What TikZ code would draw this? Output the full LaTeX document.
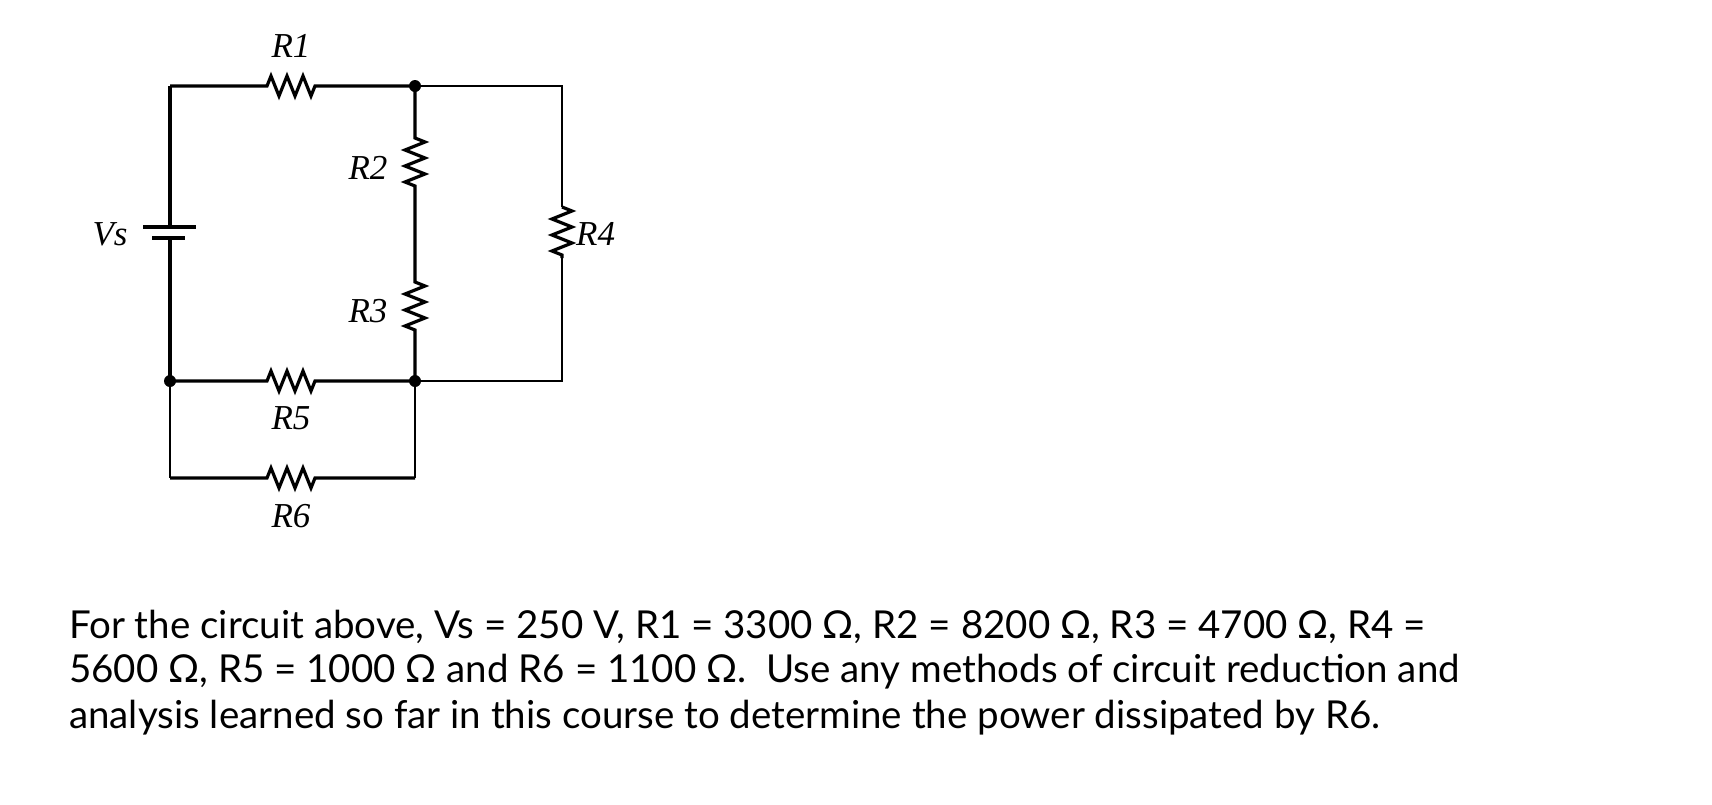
\documentclass[tikz,border=0pt]{standalone}
\usepackage{fontspec}
\setmainfont{Lato}
\newfontfamily\lbl{Liberation Serif}
\usetikzlibrary{calc}
\begin{document}
\begin{tikzpicture}[x=1pt,y=-1pt,
  wire/.style={line width=3.2pt},
  thin/.style={line width=1.8pt},
  lab/.style={font=\lbl\itshape\fontsize{35}{35}\selectfont,inner sep=0pt},
  txt/.style={font=\fontsize{38.5}{38.5}\selectfont,anchor=base west,inner sep=0pt},
  dot/.style={circle,fill,inner sep=0pt,minimum size=12pt}]
\useasboundingbox (0,0) rectangle (1712,804);
% key points
\coordinate (TL) at (170,86); \coordinate (TM) at (415,86); \coordinate (TR) at (562,86);
\coordinate (ML) at (170,381); \coordinate (MM) at (415,381); \coordinate (MR) at (562,381);
\coordinate (BL) at (170,478); \coordinate (BM) at (415,478);
% R1
\draw[wire] (TL) -- (267,86) -- ++(4,-10) -- ++(8,20) -- ++(8,-20) -- ++(8,20) -- ++(8,-20) -- ++(8,20) -- ++(4,-10) -- (TM);
% R5
\draw[wire] (ML) -- (267,381) -- ++(4,-10) -- ++(8,20) -- ++(8,-20) -- ++(8,20) -- ++(8,-20) -- ++(8,20) -- ++(4,-10) -- (MM);
% R6
\draw[wire] (BL) -- (267,478) -- ++(4,-10) -- ++(8,20) -- ++(8,-20) -- ++(8,20) -- ++(8,-20) -- ++(8,20) -- ++(4,-10) -- (BM);
% R2 and R3 branch
\draw[wire] (TM) -- (415,138) -- ++(10,4) -- ++(-20,8) -- ++(20,8) -- ++(-20,8) -- ++(20,8) -- ++(-20,8) -- ++(10,4)
  -- (415,282) -- ++(10,4) -- ++(-20,8) -- ++(20,8) -- ++(-20,8) -- ++(20,8) -- ++(-20,8) -- ++(10,4) -- (MM);
% R4 branch
\draw[thin] (TM) -- (TR) -- (562,207);
\draw[wire] (562,207) -- ++(10,4) -- ++(-20,8) -- ++(20,8) -- ++(-20,8) -- ++(20,8) -- ++(-20,8) -- ++(10,4) -- (562,258);
\draw[thin] (562,258) -- (MR) -- (MM);
% R6 loop verticals
\draw[thin] (ML) -- (BL);
\draw[thin] (MM) -- (BM);
% battery
\coordinate (BT) at (170,227); \coordinate (BB) at (170,238);
\draw[wire] (TL) -- (BT);
\draw[wire] (BB) -- (ML);
\draw[line width=3.4pt] (143,227) -- (196,227);
\draw[line width=3.4pt] (152,238) -- (185,238);
% dots
\node[dot] (d1) at (TM) {}; \node[dot] (d2) at (ML) {}; \node[dot] (d3) at (MM) {};
% labels
\node[lab] (lR1) at (291,46) {R1};
\node[lab] (lR2) at (368,168) {R2};
\node[lab] (lR3) at (368,311) {R3};
\node[lab,anchor=west] (lR4) at (576,234) {R4};
\node[lab] (lR5) at (291,418) {R5};
\node[lab] (lR6) at (291,516) {R6};
\node[lab] (lVs) at (110,234) {Vs};
% text
\node[txt] (t1) at (69,638) {For the circuit above, Vs = 250 V, R1 = 3300 Ω, R2 = 8200 Ω, R3 = 4700 Ω, R4 =};
\node[txt] (t2) at (69,682) {5600 Ω, R5 = 1000 Ω and R6 = 1100 Ω.\ \ Use any methods of circuit reduction and};
\node[txt] (t3) at (69,728) {analysis learned so far in this course to determine the power dissipated by R6.};
\end{tikzpicture}
\end{document}
